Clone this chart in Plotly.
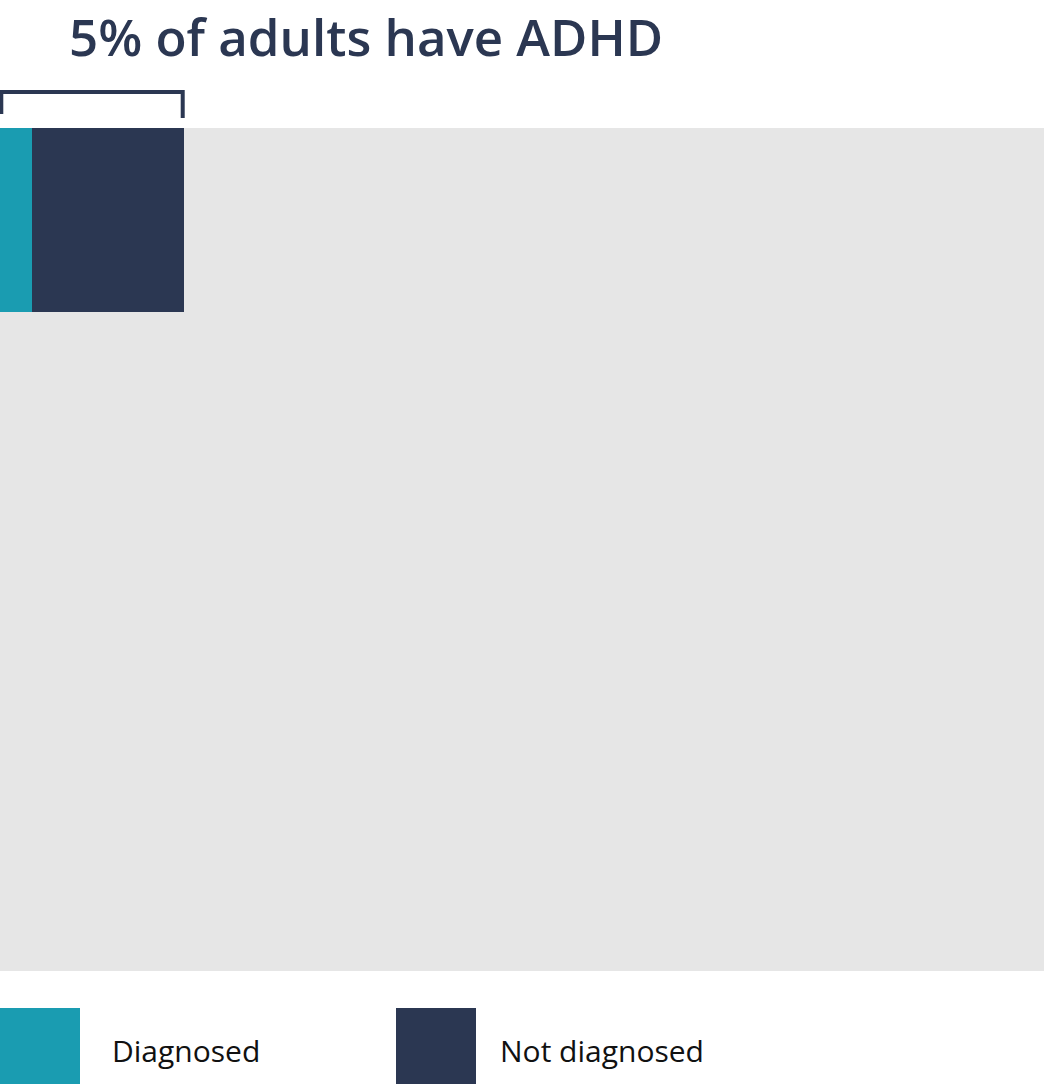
import plotly.graph_objects as go

# ---- data ----
title_text = "5% of adults have ADHD"
categories = ["Diagnosed", "Not diagnosed"]
shares = [0.87, 4.13]          # % of adults
colors = ["#1a9cb1", "#2b3752"]

adhd_total = sum(shares)

W, H = 1044, 1084
M_T, M_B = 128, 113
plot_h = H - M_T - M_B
block_px = 184  # pixel side of ADHD block

x_max = adhd_total * W / block_px
y_max = plot_h / block_px

def py(yp):
    """page pixel y -> paper y"""
    return (H - M_B - yp) / plot_h

def px(xp):
    return xp / W

fig = go.Figure()
base = 0
for cat, val, col in zip(categories, shares, colors):
    fig.add_trace(go.Bar(
        y=[y_max - 0.5], x=[val], base=[base], orientation="h", width=[1],
        marker=dict(color=col, line=dict(width=0)), name=cat, showlegend=False,
        hoverinfo="name+x"))
    base += val

# bracket above ADHD block
fig.add_shape(type="path", xref="x", yref="paper",
              path=f"M 0.035,{py(114)} L 0.035,{py(92)} L {adhd_total-0.035},{py(92)} L {adhd_total-0.035},{py(118)}",
              line=dict(color="#2b3752", width=4))

# title
fig.add_annotation(text=title_text, xref="paper", yref="paper", x=px(67), y=py(36),
                   xanchor="left", yanchor="middle", showarrow=False,
                   font=dict(family="Open Sans", size=51, color="#2b3752", weight=600))

# legend
leg_x = [0, 396]
for cat, col, lx in zip(categories, colors, leg_x):
    fig.add_shape(type="rect", xref="paper", yref="paper",
                  x0=px(lx), x1=px(lx + 80), y0=py(1084), y1=py(1008),
                  fillcolor=col, line=dict(width=0))
    fig.add_annotation(text=cat, xref="paper", yref="paper",
                       x=px(lx + 110 if lx == 0 else lx + 102), y=py(1050),
                       xanchor="left", yanchor="middle", showarrow=False,
                       font=dict(family="Open Sans", size=30, color="#111111"))

fig.update_layout(
    width=W, height=H,
    margin=dict(l=0, r=0, t=M_T, b=M_B, pad=0),
    paper_bgcolor="white", plot_bgcolor="#e6e6e6",
    barmode="stack", bargap=0,
    xaxis=dict(range=[0, x_max], visible=False, fixedrange=True),
    yaxis=dict(range=[0, y_max], visible=False, fixedrange=True),
    showlegend=False,
)

fig.write_html("out.html", config={"displayModeBar": False},
               post_script="document.body.style.margin='0';document.body.style.overflow='hidden';")
